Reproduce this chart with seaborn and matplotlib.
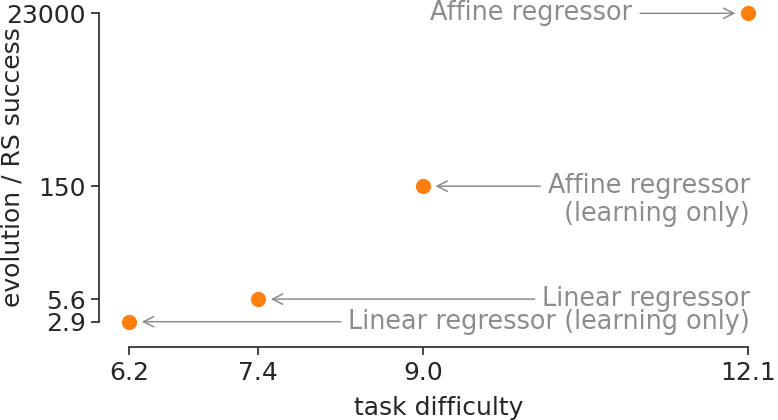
import matplotlib
matplotlib.use("Agg")
import matplotlib.pyplot as plt
import pandas as pd
import seaborn as sns

# values
models = [
    "Linear regressor (learning only)",
    "Linear regressor",
    "Affine regressor\n(learning only)",
    "Affine regressor",
]
task_difficulty = [6.2, 7.43, 9.0, 12.1]
success_ratio = [2.9, 5.6, 150, 23000]
x_tick_labels = ["6.2", "7.4", "9.0", "12.1"]
y_tick_labels = ["2.9", "5.6", "150", "23000"]

df = pd.DataFrame({"model": models, "difficulty": task_difficulty, "success": success_ratio})

sns.set_style("ticks")
plt.rcParams["font.family"] = ["DejaVu Sans"]
plt.rcParams["font.size"] = 18

fig = plt.figure(figsize=(7.78, 4.2), dpi=100)
ax = fig.add_axes([0.1662, 0.2340, 0.9614 - 0.1662, 0.9683 - 0.2340])

sns.scatterplot(data=df, x="difficulty", y="success", ax=ax, color="#ff7f0e",
                s=120, linewidth=0, zorder=3, clip_on=False)

ax.set_yscale("log")
ax.set_xlim(task_difficulty[0], task_difficulty[-1])
ax.set_ylim(success_ratio[0], success_ratio[-1])
ax.set_xticks(task_difficulty)
ax.set_xticklabels(x_tick_labels)
ax.set_yticks(success_ratio)
ax.set_yticklabels(y_tick_labels)
ax.minorticks_off()
ax.tick_params(labelsize=18, length=6, width=1.2, colors=".15")

ax.set_xlabel("task difficulty", fontsize=18, labelpad=8)
ax.set_ylabel("evolution / RS success", fontsize=18)
ax.yaxis.set_label_coords(-0.17, 0.5)

sns.despine(ax=ax)
ax.spines["left"].set_position(("outward", 22))
ax.spines["bottom"].set_position(("outward", 18.5))
for sp in ["left", "bottom"]:
    ax.spines[sp].set_linewidth(1.2)
    ax.spines[sp].set_color(".15")

arrow = dict(arrowstyle="->", color="0.55", lw=1.1, shrinkA=3, shrinkB=9)
text_kw = dict(ha="right", va="center", fontsize=18.4, color="0.55")

# label x positions (data coords) for each annotation
label_x = [12.12, 12.12, 12.12, 11.0]
for name, x, y, lx in zip(models, task_difficulty, success_ratio, label_x):
    first, *rest = name.split("\n")
    ax.annotate(first, xy=(x, y), xytext=(lx, y), textcoords="data",
                arrowprops=arrow, annotation_clip=False, **text_kw)
    if rest:
        ax.annotate(rest[0], xy=(lx, y), xytext=(0, -20), textcoords="offset points",
                    annotation_clip=False, **text_kw)

fig.savefig("out.png", dpi=100)
